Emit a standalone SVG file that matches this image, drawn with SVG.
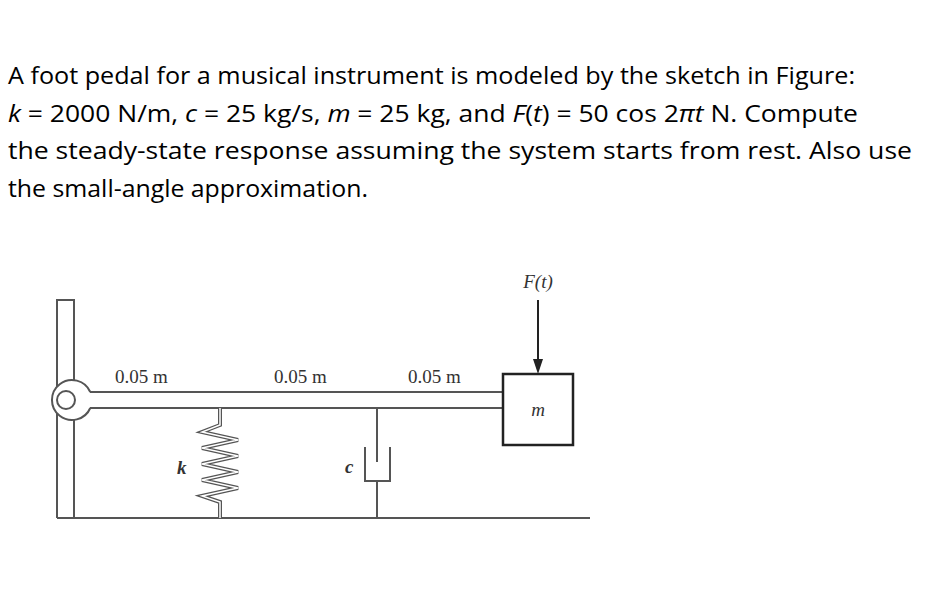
<svg xmlns="http://www.w3.org/2000/svg" width="934" height="592" viewBox="0 0 934 592">
<style>
.t{font-family:"Open Sans","Liberation Sans",sans-serif;font-size:23px;fill:#000}
.l{font-family:"Liberation Serif",serif;font-size:19px;fill:#333}
.s{fill:none;stroke:#555;stroke-width:2}
</style>
<rect width="934" height="592" fill="#fff"/>
<text class="t" x="8" y="84" textLength="847" lengthAdjust="spacingAndGlyphs">A foot pedal for a musical instrument is modeled by the sketch in Figure:</text>
<text class="t" x="8" y="122" textLength="850" lengthAdjust="spacingAndGlyphs"><tspan font-style="italic">k</tspan> = 2000 N/m, <tspan font-style="italic">c</tspan> = 25 kg/s, <tspan font-style="italic">m</tspan> = 25 kg, and <tspan font-style="italic">F</tspan>(<tspan font-style="italic">t</tspan>) = 50 cos 2<tspan font-style="italic">πt</tspan> N. Compute</text>
<text class="t" x="8" y="159" textLength="904" lengthAdjust="spacingAndGlyphs">the steady-state response assuming the system starts from rest. Also use</text>
<text class="t" x="8" y="197" textLength="360" lengthAdjust="spacingAndGlyphs">the small-angle approximation.</text>
<g id="frame">
<path class="s" d="M57,387 V300 H74 V380 M57,413 V518 M74,420 V518 M57,518 H590"/>
</g>
<g id="pivot">
<path class="s" d="M90.3,392 A20,20 0 1 0 90.3,408"/>
<circle class="s" cx="66" cy="400" r="9"/>
</g>
<g id="beam">
<path class="s" d="M90,392 H503 M90,408 H503"/>
</g>
<g id="mass">
<rect x="503" y="374" width="70" height="71" fill="#fff" stroke="#222" stroke-width="2.5"/>
<text class="l" x="538" y="416" text-anchor="middle" font-style="italic">m</text>
</g>
<g id="spring">
<path d="M220,408 V425 L202,432 L238,440 L202,448 L238,456 L202,464 L238,472 L202,480 L238,488 L202,496 L220,502 V518" fill="none" stroke="#555" stroke-width="4"/>
<path d="M220,408 V425 L202,432 L238,440 L202,448 L238,456 L202,464 L238,472 L202,480 L238,488 L202,496 L220,502 V518" fill="none" stroke="#fff" stroke-width="1.5"/>
<text class="l" x="177" y="474" font-style="italic" font-weight="bold">k</text>
</g>
<g id="damper">
<path class="s" d="M377,408 V462 M365,447 V481 H390 V447 M377,481 V518"/>
<text class="l" x="345" y="473" font-style="italic" font-weight="bold">c</text>
</g>
<g id="connectors">
<line x1="538" y1="300" x2="538" y2="362" stroke="#222" stroke-width="2"/>
<path d="M533,359 L543,359 L538,374 Z" fill="#222"/>
</g>
<text class="l" x="538" y="288" text-anchor="middle" font-style="italic">F(t)</text>
<text class="l" x="115" y="383">0.05 m</text>
<text class="l" x="274" y="383">0.05 m</text>
<text class="l" x="408" y="383">0.05 m</text>
</svg>
